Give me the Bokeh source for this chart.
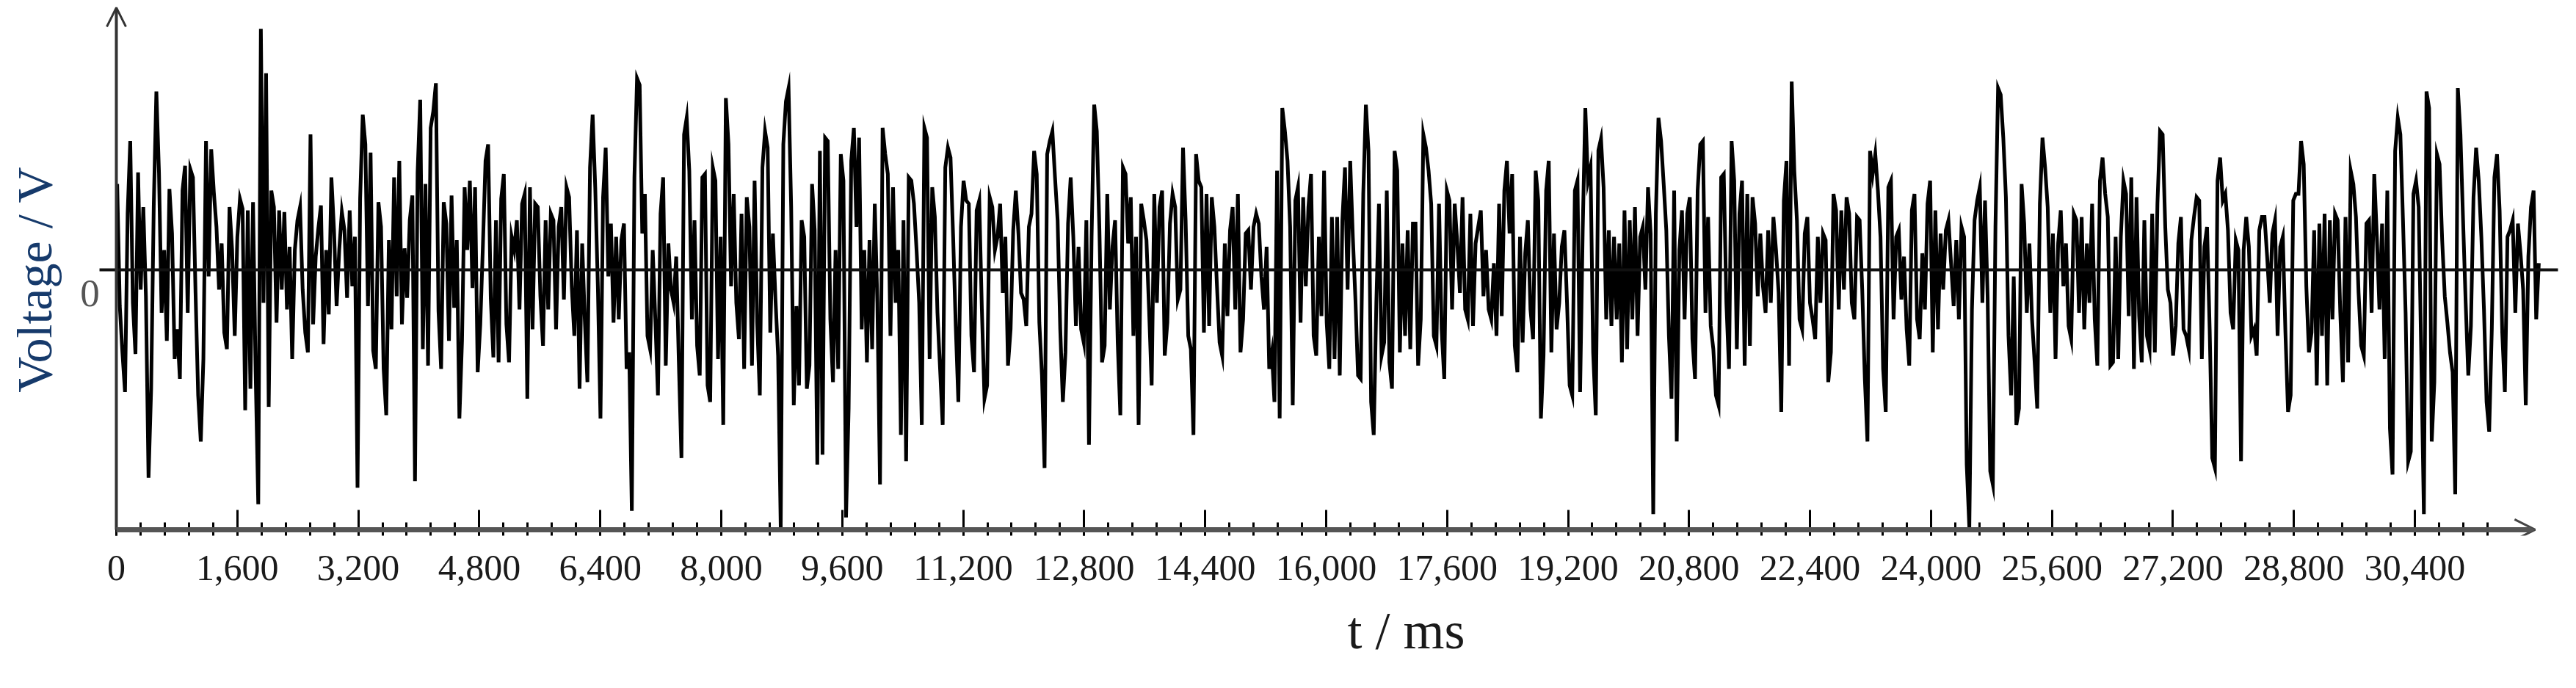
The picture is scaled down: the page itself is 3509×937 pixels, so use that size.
import numpy as np
from bokeh.plotting import figure
from bokeh.models import Range1d, FixedTicker, Label, Arrow, OpenHead, LinearAxis
from bokeh.embed import file_html
from bokeh.resources import INLINE

T0 = 11.0      # ms, first sample
DT = 34.55     # ms, sampling interval

seg1 = [260,-110,-250,-370,170,390,-100,-255,295,-60,
        190,-80,-630,-360,195,540,295,-130,60,-215,
        245,110,-270,-180,-330,240,315,-130,305,280,
        -70,-380,-520,-270,390,-20,365,235,130,-60,
        80,-190,-240,190,60,-200,100,215,185,-425,
        180,-360,205,-310,-710,730,-100,595,-415,240,
        190,-160,180,-60,175,-120,70,-270,60,150,
        190,-60,-190,-250,410,-165,40,125,195,-225,
        60,-135,280,120,-110,60,175,120,-85,180,
        -50,100,-660,215,470,380,-110,355,-245,-300,
        205,130,-300,-440,90,-180,280,-80,330,-165,
        65,-85,150,225,-640,295,515,-240,260,-290,
        430,480,565,-125,-300,205,140,-215,225,-115,
        90,-450,-215,250,60,270,-55,250,-310,-165,
        75,330,380,-85,-265,150,-280,215,290,-165,
        -280,100,60,150,-120]

seg2 = [200,230,-390,250,-180,200,190,-80,-230,150,
        -120,170,150,-180,130,190,-90,250,220,-50,
        -200,120,-360,80,-150,-340,310,470,250,-50,
        -450,220,370,-20,140,-160,100,-150,90,140,
        -300,-250,-730,280,580,560,110,230,-200,-240,
        60,-150,-380,170,280,-290,80,-60,-100,40,
        -280,-570,410,460,300,-150,150,-230,-320,280,
        290,-350,-400,310,270,-270,100,-470,520,380,
        -50,230,-100,-210,170,-300,220,130,-290,270,
        -160,-380,310,420,370,-190,110,-90,-260,-780,
        380,510,550,190,-410,-110,-350,150,100,-360,
        -290,260,120,-590,360,-560,400,390,-150,-340,
        60,-300,350,270,-750,-420,330,430,130,400,
        -180,60,-280,90,-240,200,-100,-650,430,350,
        290,-200,250,-100,60,-500,150,-580,280,270,
        200,60,-100,-470,430,400,-270]

seg3 = [250,160,-130,-300,-470,310,370,340,100,-170,
        -400,130,270,210,200,-200,-310,180,210,-120,
        -390,-350,220,190,60,100,200,-70,100,-290,
        -180,120,240,110,-70,-90,-170,130,170,360,
        290,-160,-320,-600,350,390,420,280,150,-180,
        -400,-250,140,280,100,-170,70,-180,-220,150,
        -530,100,500,420,120,-280,-230,230,-120,70,
        150,-220,-440,310,290,80,220,-200,100,-470,
        200,150,90,-120,-350,230,-100,190,240,-260,
        -160,140,230,190,-90,-60,370,150,-200,-240,
        -500,350,270,250,-190,230,-170,220,130,-50,
        -220,-260,80,-140,120,190,-120,230,-250,-150,
        110,120,-60,130,170,140,-20,-120,70,-300,
        -250,-400,300,-450,490,420,330,130,-410,210,
        250,-160,220,-50,190,290,-200,-260,100,-140,
        300,-160,-300,160,-270,160,-320]

seg4 = [150,310,-60,330,100,-90,-320,-330,230,500,
        360,-400,-500,-100,200,-260,-220,240,-280,-360,
        360,300,-250,80,-200,120,-240,140,140,-290,
        -150,410,370,300,200,-200,-230,200,-180,-330,
        240,210,-120,200,80,-70,220,-120,-150,170,
        -170,80,130,180,-80,60,-120,-150,20,-200,
        200,-140,240,330,110,290,-230,-310,100,-220,
        50,150,-120,-210,300,210,-450,-260,240,330,
        -250,110,-180,-100,70,120,-100,-350,-380,240,
        270,-370,120,490,270,310,-250,-440,362,397,
        250,-150,120,-170,100,-150,80,-280,180,-240,
        150,-150,190,-200,100,130,-60,250,110,-740,
        170,460,390,260,120,-200,-390,240,-520,60,
        180,-150,170,220,-210,-330,240,380,390,-130,
        160,-170,-240,-380,-410,280,290,-100,-300,390,
        270,-240,170,270,-290,230,-230]

seg5 = [220,140,-80,110,-50,-130,120,-100,160,60,
        -70,-430,210,330,-290,570,300,150,-150,-180,
        110,160,-100,-150,-210,100,-100,110,90,-340,
        -250,230,180,-120,180,-60,220,170,-100,-150,
        160,150,-60,-330,-520,360,290,350,240,100,
        -300,-430,250,270,-150,100,120,-90,40,-180,
        -290,180,230,-150,-210,50,-120,200,270,-250,
        180,-180,110,-60,120,150,20,-110,90,-150,
        130,100,-590,-780,-120,150,210,250,-100,210,
        -80,-610,-650,130,550,530,400,220,-200,-380,
        -20,-470,-420,260,140,-130,80,-150,-280,-420,
        200,400,310,190,-130,110,-270,80,180,-50,
        80,-170,-210,170,150,-130,160,-180,80,-100,
        200,-150,-290,270,340,230,160,-290,-280,100,
        -270,100,270,230,-140,280,-300,220,-140,-280,
        150,-200,-240,170,-250,200,420]

seg6 = [410,130,-60,-100,-260,-170,80,160,-180,-200,
        -240,90,160,220,210,-270,70,130,-180,-570,
        -600,270,340,210,230,120,-130,-180,90,60,
        -580,60,160,70,-200,-180,-260,120,160,160,
        40,-100,110,150,-200,70,100,-190,-430,-380,
        210,230,230,390,320,-50,-250,-190,120,-350,
        140,-200,170,-350,150,-150,170,150,-130,-340,
        160,-280,300,260,160,-70,-230,-260,140,150,
        -130,290,100,-120,140,-270,240,-480,-620,360,
        460,410,150,-130,-580,-550,230,270,190,-260,
        -740,540,490,-520,-340,350,320,90,-80,-160,
        -250,-310,-680,550,410,150,-100,-320,-170,220,
        370,270,100,-120,-400,-490,-180,280,350,180,
        -190,-370,100,120,150,-130,140,50,-60,-410,
        40,190,240,-150,20]

major_ticks = [0, 1600, 3200, 4800, 6400, 8000, 9600, 11200, 12800, 14400,
               16000, 17600, 19200, 20800, 22400, 24000, 25600, 27200, 28800, 30400]
tick_labels = ["0", "1,600", "3,200", "4,800", "6,400", "8,000", "9,600", "11,200",
               "12,800", "14,400", "16,000", "17,600", "19,200", "20,800", "22,400",
               "24,000", "25,600", "27,200", "28,800", "30,400"]
minor_step = 320
minor_last = 31360
x_title = "t / ms"
x_title_pos = 17059
y_title = "Voltage / V"

x_start, x_end = -1534, 32380
y_start, y_end = -805, 816
axis_y = -787          # level of the time axis
y_top = 794            # tip of the voltage axis arrow
axis_end = 31990       # tip of the time axis arrow
zero_from, zero_to = -223, 32292

voltage = np.array(seg1 + seg2 + seg3 + seg4 + seg5 + seg6, dtype=float)
t = T0 + DT * np.arange(len(voltage))

SERIF = "Liberation Serif"

p = figure(width=3493, height=921, output_backend="svg", toolbar_location=None,
           x_range=Range1d(x_start, x_end), y_range=Range1d(y_start, y_end),
           y_axis_location=None,
           min_border_left=0, min_border_right=0, min_border_top=0, min_border_bottom=192)
p.background_fill_color = "white"
p.border_fill_color = "white"
p.outline_line_color = None
p.xgrid.visible = False
p.ygrid.visible = False

# signal
p.line(t, voltage, line_color="black", line_width=5, line_join="miter")

# zero line
p.segment(x0=[zero_from], y0=[0], x1=[zero_to], y1=[0], line_color="#111111", line_width=4)

# voltage axis with arrow
p.add_layout(Arrow(x_start=0, y_start=axis_y, x_end=0, y_end=y_top,
                   line_color="#333333", line_width=4,
                   end=OpenHead(size=26, line_width=3, line_color="#333333")))

# time axis ticks / labels (library axis at the frame bottom)
xa = p.xaxis[0]
xa.ticker = FixedTicker(ticks=major_ticks,
                        minor_ticks=list(range(0, minor_last + 1, minor_step)))
xa.major_label_overrides = {k: v for k, v in zip(major_ticks, tick_labels)}
xa.axis_line_alpha = 0
xa.major_tick_in = 35
xa.major_tick_out = 0
xa.minor_tick_in = 18
xa.minor_tick_out = 0
xa.major_tick_line_width = 3
xa.minor_tick_line_width = 3
xa.major_tick_line_color = "black"
xa.minor_tick_line_color = "black"
xa.major_label_text_font = SERIF
xa.major_label_text_font_size = "50px"
xa.major_label_text_color = "#1a1a1a"
xa.major_label_standoff = 27

# time axis line with arrow (drawn over the tick feet)
p.add_layout(Arrow(x_start=0, y_start=axis_y, x_end=axis_end, y_end=axis_y,
                   line_color="#555555", line_width=7,
                   end=OpenHead(size=28, line_width=3, line_color="#444444")))

# axis title for time, as a second axis row below the tick labels
title_axis = LinearAxis(ticker=FixedTicker(ticks=[x_title_pos]),
                        major_label_overrides={x_title_pos: x_title})
title_axis.axis_line_alpha = 0
title_axis.major_tick_line_alpha = 0
title_axis.minor_tick_line_alpha = 0
title_axis.major_tick_in = 0
title_axis.major_tick_out = 0
title_axis.major_label_standoff = 26
title_axis.major_label_text_font = SERIF
title_axis.major_label_text_font_size = "72px"
title_axis.major_label_text_color = "#1a1a1a"
p.add_layout(title_axis, "below")

# texts on the left (inside the frame)
p.add_layout(Label(x=0, y=0, x_offset=-36, y_offset=-32, text="0",
                   text_font=SERIF, text_font_size="53px", text_color="#555555",
                   text_align="center", text_baseline="middle"))
p.add_layout(Label(x=0, y=-29, x_offset=-111, text=y_title, angle=np.pi / 2,
                   text_font=SERIF, text_font_size="68px", text_color="#163a6b",
                   text_align="center", text_baseline="middle"))

open("out.html", "w").write(file_html(p, INLINE))
